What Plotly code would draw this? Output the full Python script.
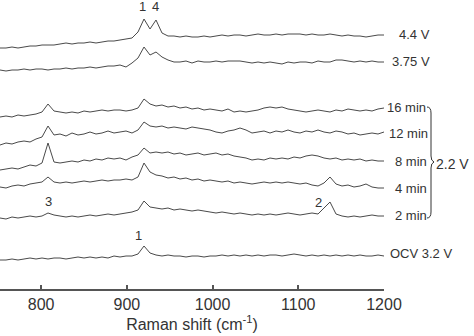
import plotly.graph_objects as go

# Raman shift grid (cm^-1)
shift = [752 + 7 * i for i in range(65)]

# Offset intensities (a.u.)
s_44 = [241,241,242,241,242,243,243,244,244,244, 245,246,245,246,246,247,246,247,248,248,
        249,250,251,257,270,260,269,256,253,253, 252,253,252,252,253,252,253,254,253,254,
        254,253,254,255,254,254,255,254,255,255, 255,254,255,254,254,255,254,253,254,253,
        253,252,253,254,254]
s_375 = [219,218,219,219,220,219,220,220,219,220, 220,221,220,221,221,222,221,222,223,223,
         224,222,226,231,242,234,237,232,229,227, 227,228,226,228,227,227,228,227,228,228,
         228,227,226,227,226,227,226,225,227,226, 227,227,226,228,227,227,229,229,228,227,
         228,227,228,227,227]
s_16 = [172,173,172,174,173,174,175,177,185,178, 177,176,177,176,178,177,178,179,178,179,
        179,178,179,181,190,185,183,184,182,183, 181,182,180,181,179,180,179,178,180,177,
        178,177,178,179,181,182,181,182,180,179, 178,177,178,179,178,177,179,178,180,179,
        178,179,178,180,181]
s_12 = [144,146,145,147,148,147,150,152,163,154, 155,153,156,154,155,157,155,156,158,156,
        157,158,156,159,167,163,162,163,161,162, 161,160,162,161,160,159,157,156,158,159,
        161,159,156,157,158,156,158,157,159,157, 156,158,157,159,157,156,158,157,155,156,
        154,155,156,155,157]
s_8 = [119,120,121,120,122,124,123,126,146,127, 126,127,128,127,129,128,130,129,131,130,
       131,129,132,134,141,136,137,136,137,135, 136,134,135,136,134,135,136,134,135,133,
       132,131,129,130,129,131,130,131,130,132, 131,133,134,133,131,130,131,129,130,129,
       130,128,129,128,128]
s_4 = [102,101,103,104,103,105,106,107,112,107, 106,107,106,107,108,107,108,109,108,109,
       109,110,109,112,126,117,114,113,111,112, 110,111,109,110,108,109,108,107,108,106,
       107,106,105,106,107,106,107,106,107,106, 105,106,104,103,106,112,105,103,104,102,
       103,105,102,101,101]
s_2 = [71,70,72,71,72,73,72,73,76,74, 73,72,73,72,73,74,73,74,75,74,
       75,76,77,79,88,82,81,80,81,79, 80,79,78,79,78,77,76,77,76,75,
       76,75,74,75,74,75,74,75,76,75, 74,75,76,75,81,87,75,73,72,73,
       72,73,74,73,73]
s_ocv = [29,29,30,29,30,31,30,31,30,31, 31,30,31,32,31,32,31,32,31,33,
         32,33,33,35,43,36,34,33,34,33, 33,32,33,33,32,33,33,34,33,34,
         33,34,33,34,33,34,34,33,34,35, 34,33,34,33,34,33,34,33,34,33,
         34,33,33,34,33]

series = [s_44, s_375, s_16, s_12, s_8, s_4, s_2, s_ocv]
labels = ["4.4 V", "3.75 V", "16 min", "12 min", "8 min", "4 min", "2 min", "OCV 3.2 V"]
label_y = [255, 228, 182, 156, 128, 101, 74, 36]
label_dx = [13, 6, 1, 3, 9, 9, 9, 4]

# Peak labels
peak_text = ["1", "4", "3", "2", "1"]
peak_x = [918, 933, 808, 1124, 913]
peak_y = [283, 283, 88, 87, 54]

tick_vals = [800, 900, 1000, 1100, 1200]

line_col = "#4a4a4a"
txt_col = "#333333"
FONT = "Liberation Sans, Arial, sans-serif"

fig = go.Figure()
for s in series:
    fig.add_trace(go.Scatter(x=shift, y=s, mode="lines",
                             line=dict(color=line_col, width=1), showlegend=False,
                             hoverinfo="skip"))

ann = []
for t, yy, dx in zip(labels, label_y, label_dx):
    ann.append(dict(text=t, xref="paper", x=1, xanchor="left", xshift=dx,
                    yref="y", y=yy, yanchor="middle", showarrow=False,
                    font=dict(size=13, color=txt_col, family=FONT)))
for t, xx, yy in zip(peak_text, peak_x, peak_y):
    ann.append(dict(text=t, xref="x", x=xx, yref="y", y=yy, showarrow=False,
                    font=dict(size=13, color=txt_col, family=FONT)))
ann.append(dict(text="2.2 V", xref="paper", x=1, xanchor="left", xshift=50,
                yref="y", y=125, yanchor="middle", showarrow=False,
                font=dict(size=14, color=txt_col, family=FONT)))

# brace (paper x units: 384 px plot width)
def px(p):
    return p / 384.0

brace = (f"M {px(427)},182 Q {px(431)},182 {px(431)},176 L {px(431)},133 "
         f"Q {px(431)},128 {px(434)},127 Q {px(431)},126 {px(431)},121 "
         f"L {px(431)},77 Q {px(431)},71 {px(427)},71")

fig.update_layout(
    width=474, height=336,
    margin=dict(l=0, r=90, t=0, b=47),
    paper_bgcolor="white", plot_bgcolor="white",
    annotations=ann,
    shapes=[dict(type="path", path=brace, xref="paper", yref="y",
                 line=dict(color=txt_col, width=1))],
    xaxis=dict(range=[752, 1200], tickvals=tick_vals, ticks="inside", ticklen=4,
               tickwidth=1.5, tickcolor="#555", showline=True, linecolor="#555",
               linewidth=2, showgrid=False, zeroline=False,
               tickfont=dict(size=16, color=txt_col, family=FONT),
               title=dict(text="Raman shift (cm<sup>-1</sup>)", standoff=6,
                          font=dict(size=16, color=txt_col, family=FONT))),
    yaxis=dict(range=[0, 289], visible=False),
)

fig.write_html("out.html")
